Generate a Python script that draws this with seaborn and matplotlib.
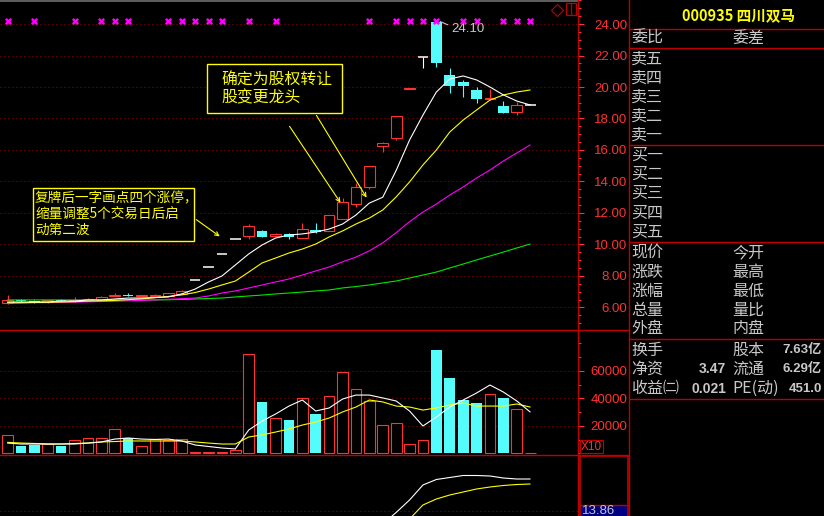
import numpy as np
import pandas as pd
import seaborn as sns
import matplotlib.pyplot as plt
from matplotlib.lines import Line2D
from matplotlib.patches import Rectangle, FancyArrowPatch
from matplotlib.ticker import MultipleLocator

# ---- data --------------------------------------------------------------
opens = [6.30, 6.48, 6.42, 6.35, 6.45, 6.40, 6.45, 6.48, 6.74, 6.80,
         6.72, 6.72, 6.73, 6.87, 7.76, 8.54, 9.39, 10.33, 10.56, 10.86,
         10.56, 10.67, 10.39, 10.94, 10.88, 11.60, 12.55, 13.63, 16.25, 16.76,
         19.90, 21.93, 24.10, 20.76, 20.34, 19.81, 19.24, 18.79, 18.43, 18.83]
highs = [6.80, 6.52, 6.50, 6.50, 6.52, 6.68, 6.58, 6.70, 6.90, 6.92,
         6.80, 6.85, 6.92, 7.08, 7.76, 8.54, 9.39, 10.33, 11.30, 10.92,
         10.70, 10.70, 11.38, 11.38, 11.90, 12.93, 13.93, 15.00, 16.48, 18.13,
         19.94, 21.93, 24.10, 21.23, 20.44, 19.98, 19.87, 19.11, 19.07, 18.83]
lows = [6.25, 6.36, 6.30, 6.30, 6.35, 6.36, 6.42, 6.45, 6.70, 6.70,
        6.68, 6.70, 6.70, 6.85, 7.76, 8.54, 9.39, 10.33, 10.37, 10.46,
        10.50, 10.35, 10.39, 10.75, 10.85, 11.60, 12.36, 13.50, 15.85, 16.63,
        19.90, 21.19, 21.29, 19.60, 19.38, 19.00, 19.20, 18.35, 18.22, 18.83]
closes = [6.48, 6.40, 6.35, 6.48, 6.40, 6.50, 6.55, 6.68, 6.82, 6.76,
          6.78, 6.80, 6.90, 7.05, 7.76, 8.54, 9.39, 10.33, 11.17, 10.46,
          10.68, 10.46, 10.96, 10.79, 11.87, 12.68, 13.63, 14.98, 16.46, 18.13,
          19.94, 21.93, 21.50, 20.06, 20.06, 19.24, 19.30, 18.37, 18.83, 18.83]
volumes = [13800, 5800, 6500, 7000, 5300, 10000, 11000, 11000, 17500, 11000,
           5800, 10500, 9500, 10700, 1000, 1000, 1000, 2500, 72700, 37300,
           26000, 24700, 40500, 29000, 41500, 59000, 47000, 38000, 21000, 22000,
           7000, 9500, 75600, 55000, 39000, 37000, 43600, 40700, 32000, 300]

ma5 = [6.35, 6.35, 6.35, 6.35, 6.41, 6.41, 6.48, 6.48, 6.54, 6.60,
       6.60, 6.63, 6.67, 6.86, 7.17, 7.62, 8.00, 8.70, 9.40, 9.97,
       10.41, 10.60, 10.67, 10.79, 10.98, 11.30, 11.87, 12.63, 13.00, 14.70,
       16.63, 18.22, 19.68, 20.51, 20.70, 20.45, 20.00, 19.50, 19.11, 18.86]
ma10 = [6.30, 6.30, 6.32, 6.33, 6.35, 6.37, 6.40, 6.42, 6.45, 6.50,
        6.55, 6.62, 6.70, 6.80, 6.95, 7.17, 7.43, 7.68, 8.25, 8.83,
        9.14, 9.46, 9.71, 10.03, 10.48, 10.86, 11.30, 11.68, 12.19, 13.02,
        13.97, 15.05, 16.00, 17.14, 17.90, 18.54, 19.17, 19.49, 19.68, 19.81]
ma20 = [6.28, 6.29, 6.30, 6.31, 6.32, 6.34, 6.36, 6.38, 6.40, 6.42,
        6.45, 6.48, 6.52, 6.56, 6.60, 6.73, 6.92, 7.05, 7.24, 7.43,
        7.62, 7.81, 8.06, 8.32, 8.57, 8.90, 9.20, 9.60, 10.10, 10.75,
        11.45, 12.06, 12.57, 13.14, 13.65, 14.22, 14.73, 15.30, 15.81, 16.32]
ma60 = [6.48, 6.48, 6.48, 6.48, 6.48, 6.48, 6.48, 6.48, 6.48, 6.48,
        6.48, 6.48, 6.49, 6.51, 6.54, 6.57, 6.60, 6.67, 6.73, 6.79,
        6.86, 6.92, 6.98, 7.05, 7.11, 7.24, 7.33, 7.43, 7.56, 7.68,
        7.87, 8.06, 8.25, 8.51, 8.76, 9.02, 9.27, 9.52, 9.78, 10.03]
vol_ma5 = [7600, 6900, 6900, 6900, 6900, 6900, 7600, 8400, 10500, 11300,
           10500, 10200, 10500, 9100, 6200, 5100, 4000, 3300, 17100, 23600,
           28700, 34500, 38900, 30900, 33100, 39600, 42500, 42500, 40400, 38200,
           30900, 20000, 26500, 33800, 38900, 44000, 49800, 44700, 38200, 30200]
vol_ma10 = [8100, 7600, 7300, 6900, 6900, 7300, 7600, 8400, 8700, 9100,
            9100, 9100, 9100, 9100, 8400, 7600, 6900, 6900, 12000, 13500,
            15600, 17800, 20700, 22900, 25800, 30200, 33800, 38900, 37500, 34500,
            33800, 31600, 33100, 35300, 36700, 34500, 34500, 34500, 36000, 33800]
nan = np.nan
ind_fast = [nan] * 28 + [12.56, 13.71, 14.96, 16.46, 17.01, 17.21, 17.41, 17.41,
                         17.36, 17.16, 17.06, 17.06]
ind_slow = [nan] * 29 + [11.96, 13.06, 14.46, 15.06, 15.46, 15.76, 16.06, 16.26,
                         16.41, 16.51, 16.56]

signal_days = [0, 2, 5, 7, 8, 9, 12, 13, 14, 15, 16, 18, 20, 27, 29, 30, 31, 32,
               34, 35, 37, 38, 39]

price_ticks = [6, 8, 10, 12, 14, 16, 18, 20, 22, 24]
vol_ticks = [20000, 40000, 60000]
ind_tick = 13.86
high_label = "24.10"

note1 = "复牌后一字画点四个涨停，\n缩量调整5个交易日后启\n动第二波"
note2 = "确定为股权转让\n股变更龙头"

title = "000935 四川双马"
sell_rows = ["卖五", "卖四", "卖三", "卖二", "卖一"]
buy_rows = ["买一", "买二", "买三", "买四", "买五"]
quote_left = ["现价", "涨跌", "涨幅", "总量", "外盘"]
quote_right = ["今开", "最高", "最低", "量比", "内盘"]
fin_left = ["换手", "净资", "收益㈡"]
fin_left_vals = ["", "3.47", "0.021"]
fin_right = ["股本", "流通", "PE(动)"]
fin_right_vals = ["7.63亿", "6.29亿", "451.0"]

df = pd.DataFrame({"day": np.arange(len(opens)), "open": opens, "high": highs,
                   "low": lows, "close": closes, "volume": volumes,
                   "ma5": ma5, "ma10": ma10, "ma20": ma20, "ma60": ma60,
                   "vma5": vol_ma5, "vma10": vol_ma10,
                   "fast": ind_fast, "slow": ind_slow})

# ---- style -------------------------------------------------------------
sns.set_style("dark")
plt.rcParams['font.family'] = ['Noto Sans CJK SC', 'DejaVu Sans']
plt.rcParams['axes.axisbelow'] = True

RED = "#ff3232"
CYAN = "#54fcfc"
YELLOW = "#ffff00"
MAGENTA = "#ff00ff"
GREEN = "#00e600"
FRAME = "#c00000"
GRID = "#a00000"
GREY = "#c8c8c8"
NUM_FONT = ['Liberation Sans', 'Noto Sans CJK SC']

W, H = 824, 516
fig = plt.figure(figsize=(W / 100, H / 100), dpi=100, facecolor="black")


def fx(px):
    return px / W


def fy(py):
    return 1 - py / H


def hline(y, x0, x1, color=FRAME, lw=1.0):
    fig.add_artist(Line2D([fx(x0), fx(x1)], [fy(y), fy(y)], color=color, lw=lw))


def vline(x, y0, y1, color=FRAME, lw=1.0):
    fig.add_artist(Line2D([fx(x), fx(x)], [fy(y0), fy(y1)], color=color, lw=lw))


ax_p = fig.add_axes([0, fy(330), fx(578), 330 / H])
ax_v = fig.add_axes([0, fy(455), fx(578), 125 / H])
ax_b = fig.add_axes([0, 0, fx(578), 61 / H])

for ax in (ax_p, ax_v, ax_b):
    ax.set_facecolor("black")
    for s in ax.spines.values():
        s.set_visible(False)
    ax.tick_params(axis="x", bottom=False, labelbottom=False)
    ax.set_xlim(-0.56, 42.57)

BW = 0.8
up = df.close > df.open
down = df.close < df.open
flat = df.close == df.open

# ---- price panel -------------------------------------------------------
for colour, mask in ((RED, up), (CYAN, down), ("white", flat)):
    d = df[mask]
    ax_p.vlines(d.day, d.low, d.high, color=colour, lw=0.8, zorder=2)
ax_p.bar(df.day[up], (df.close - df.open)[up], bottom=df.open[up], width=BW,
         facecolor="black", edgecolor=RED, lw=0.8, zorder=3)
ax_p.bar(df.day[down], (df.open - df.close)[down], bottom=df.close[down], width=BW,
         color=CYAN, lw=0, zorder=3)
ax_p.hlines(df.close[flat], df.day[flat] - BW / 2, df.day[flat] + BW / 2,
            color="white", lw=1.1, zorder=3)

for col, colour in (("ma60", GREEN), ("ma20", MAGENTA), ("ma10", YELLOW), ("ma5", "white")):
    sns.lineplot(data=df, x="day", y=col, color=colour, lw=0.8, ax=ax_p, zorder=4)

sns.scatterplot(x=signal_days, y=[24.19] * len(signal_days), marker="X", s=26,
                color=MAGENTA, linewidth=0, ax=ax_p, zorder=5)

top = df.loc[df.high.idxmax()]
ax_p.plot([top.day + 0.3, top.day + 0.85], [top.high + 0.05, top.high - 0.15],
          color=GREY, lw=0.8)
ax_p.text(top.day + 1.1, top.high - 0.42, high_label, color=GREY, fontsize=9.5,
          family=NUM_FONT, va="center", ha="left")

ax_p.set_ylim(4.571, 25.524)
ax_p.yaxis.tick_right()
ax_p.set_yticks(price_ticks)
ax_p.set_yticklabels([f"{v:.2f}" for v in price_ticks], ha="right", family=NUM_FONT)
ax_p.yaxis.set_minor_locator(MultipleLocator(0.5))
ax_p.tick_params(axis="y", which="major", right=True, left=False, direction="out",
                 length=4, width=0.8, color=RED, labelcolor=RED, labelsize=9.5, pad=31.5)
ax_p.tick_params(axis="y", which="minor", right=True, left=False, direction="out",
                 length=2.2, width=0.8, color=RED)
ax_p.grid(axis="y", which="major", color=GRID, linestyle=(0, (1, 3)), lw=0.72)
ax_p.set_xlabel("")
ax_p.set_ylabel("")

# ---- volume panel ------------------------------------------------------
vol_up = df.close >= df.open
ax_v.bar(df.day[vol_up], df.volume[vol_up], width=BW, facecolor="black",
         edgecolor=RED, lw=0.8, zorder=3)
ax_v.bar(df.day[~vol_up], df.volume[~vol_up], width=BW, color=CYAN, lw=0, zorder=3)
sns.lineplot(data=df, x="day", y="vma10", color=YELLOW, lw=0.8, ax=ax_v, zorder=4)
sns.lineplot(data=df, x="day", y="vma5", color="white", lw=0.8, ax=ax_v, zorder=4)
ax_v.set_ylim(-1091, 89818)
ax_v.yaxis.tick_right()
ax_v.set_yticks(vol_ticks)
ax_v.set_yticklabels([str(v) for v in vol_ticks], ha="right", family=NUM_FONT)
ax_v.yaxis.set_minor_locator(MultipleLocator(10000))
ax_v.tick_params(axis="y", which="major", right=True, left=False, direction="out",
                 length=4, width=0.8, color=RED, labelcolor=RED, labelsize=9.5, pad=31.5)
ax_v.tick_params(axis="y", which="minor", right=True, left=False, direction="out",
                 length=2.2, width=0.8, color=RED)
ax_v.grid(axis="y", which="major", color=GRID, linestyle=(0, (1, 3)), lw=0.72)
ax_v.set_xlabel("")
ax_v.set_ylabel("")

# ---- indicator panel ---------------------------------------------------
sns.lineplot(data=df, x="day", y="slow", color=YELLOW, lw=0.8, ax=ax_b)
sns.lineplot(data=df, x="day", y="fast", color="white", lw=0.8, ax=ax_b)
ax_b.set_ylim(13.36, 19.46)
ax_b.set_yticks([ind_tick])
ax_b.tick_params(axis="y", left=False, right=False, labelleft=False, labelright=False)
ax_b.grid(axis="y", color=GRID, linestyle=(0, (1, 3)), lw=0.72)
ax_b.set_xlabel("")
ax_b.set_ylabel("")
ax_b.set_xlim(-0.56, 42.57)

# ---- frame lines -------------------------------------------------------
hline(0.5, 0, 578, color="#707070", lw=1.2)
hline(330, 0, 629)
hline(455, 0, 629)
vline(578, 0, 516)
vline(629, 0, 516)
for y in (29, 48, 145, 242, 339, 399):
    hline(y, 629, 824)
fig.add_artist(Rectangle((fx(580), fy(516)), fx(48), 60 / H, fill=False, ec=FRAME, lw=1.2))
hline(505, 580, 628)
fig.add_artist(Rectangle((fx(581), fy(516)), fx(46), 10 / H, facecolor="#000080", ec="none"))
fig.text(fx(582), fy(511), f"{ind_tick:.2f}", color=GREY, fontsize=9.5, family=NUM_FONT,
         va="center", ha="left")
fig.add_artist(Rectangle((fx(580), fy(453)), fx(23), 13 / H, fill=False, ec=FRAME, lw=0.8))
fig.text(fx(591.5), fy(446.5), "X10", color=RED, fontsize=8.5, family=NUM_FONT,
         va="center", ha="center")

# small icons top right of main chart
fig.add_artist(Line2D([fx(557)], [fy(10)], marker="D", markersize=6, mfc="none",
                      mec=FRAME, mew=0.8))
fig.add_artist(Rectangle((fx(566), fy(15)), fx(10), 12 / H, fill=False, ec=FRAME, lw=0.9))
vline(571, 3, 15, lw=0.9)

# ---- annotations -------------------------------------------------------
fig.add_artist(Rectangle((fx(33), fy(241)), fx(161), 53 / H, facecolor="black",
                         ec=YELLOW, lw=1.0, zorder=6))
fig.text(fx(35), fy(214), note1, color=YELLOW, fontsize=9.8, va="center", ha="left",
         linespacing=1.15, zorder=7)
fig.add_artist(FancyArrowPatch((fx(194), fy(218)), (fx(222), fy(238)), arrowstyle="->",
                               mutation_scale=7, color=YELLOW, lw=0.8, zorder=6))

fig.add_artist(Rectangle((fx(207), fy(113)), fx(135), 49 / H, facecolor="black",
                         ec=YELLOW, lw=1.0, zorder=6))
fig.text(fx(221), fy(89), note2, color=YELLOW, fontsize=11.4, va="center", ha="left",
         linespacing=1.1, zorder=7)
fig.add_artist(FancyArrowPatch((fx(288), fy(124)), (fx(342), fy(205)), arrowstyle="->",
                               mutation_scale=7, color=YELLOW, lw=0.8, zorder=6))
fig.add_artist(FancyArrowPatch((fx(315), fy(113)), (fx(368), fy(200)), arrowstyle="->",
                               mutation_scale=7, color=YELLOW, lw=0.8, zorder=6))

# ---- quote panel -------------------------------------------------------
LAB = dict(color=GREY, fontsize=11.5, va="center", ha="left")
fig.text(fx(739), fy(15), title, color=YELLOW, fontsize=10.5, fontweight="bold",
         va="center", ha="center")
fig.text(fx(631), fy(38), "委比", **LAB)
fig.text(fx(732), fy(38), "委差", **LAB)
for k, lab in enumerate(sell_rows):
    fig.text(fx(631), fy(59 + 19.1 * k), lab, **LAB)
for k, lab in enumerate(buy_rows):
    fig.text(fx(631), fy(155 + 19.3 * k), lab, **LAB)
for k, (a, b) in enumerate(zip(quote_left, quote_right)):
    fig.text(fx(631), fy(253 + 19 * k), a, **LAB)
    fig.text(fx(732), fy(253 + 19 * k), b, **LAB)
for k in range(3):
    y = fy(350 + 19.3 * k)
    fig.text(fx(631), y, fin_left[k], **LAB)
    fig.text(fx(732), y, fin_right[k], **LAB)
    fig.text(fx(726), y, fin_left_vals[k], color=GREY, fontsize=10, fontweight="bold",
             family=NUM_FONT, va="center", ha="right")
    fig.text(fx(822), y, fin_right_vals[k], color=GREY, fontsize=9.5, fontweight="bold",
             family=NUM_FONT, va="center", ha="right")

fig.savefig("out.png", dpi=100, facecolor="black")
